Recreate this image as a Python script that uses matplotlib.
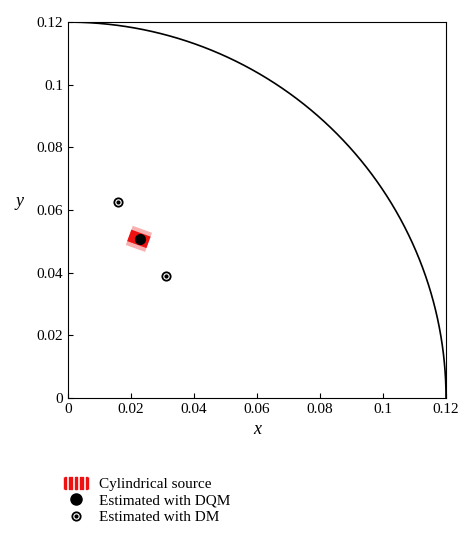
import numpy as np
import matplotlib
matplotlib.use("Agg")
import matplotlib.pyplot as plt
from matplotlib.patches import Rectangle
from matplotlib.lines import Line2D
from matplotlib.legend_handler import HandlerTuple
import matplotlib.transforms as mtransforms

plt.rcParams['font.family'] = ['Liberation Serif', 'DejaVu Serif']

radius = 0.12
source_center = (0.0225, 0.0508)
source_size = 0.0065
source_angle = -20
dqm_x, dqm_y = [0.0227], [0.0507]
dm_x, dm_y = [0.0160, 0.0310], [0.0625, 0.0390]
ticks = [0, 0.02, 0.04, 0.06, 0.08, 0.1, 0.12]
tick_labels = ['0', '0.02', '0.04', '0.06', '0.08', '0.1', '0.12']

fig = plt.figure(figsize=(4.74, 5.39), dpi=100)
ax = fig.add_axes([0.1435, 0.2616, 0.7975, 0.6974])

t = np.linspace(0, np.pi / 2, 400)
ax.plot(radius * np.cos(t), radius * np.sin(t), color='black', lw=1.2)

plt.rcParams['hatch.color'] = '#ee1111'
plt.rcParams['hatch.linewidth'] = 1.6
tr = mtransforms.Affine2D().rotate_deg_around(source_center[0], source_center[1], source_angle) + ax.transData
rect = Rectangle((source_center[0] - source_size / 2, source_center[1] - source_size / 2),
                 source_size, source_size, facecolor='#f8b0b0', edgecolor='none',
                 hatch='|||')
rect.set_transform(tr)
ax.add_patch(rect)
inner = Rectangle((source_center[0] - source_size / 2, source_center[1] - source_size * 0.3),
                  source_size, source_size * 0.6, facecolor='#ee1111', edgecolor='none')
inner.set_transform(tr)
ax.add_patch(inner)

ax.plot(dqm_x, dqm_y, 'o', color='black', ms=7)
ax.plot(dm_x, dm_y, 'o', mfc='white', mec='black', mew=1.3, ms=6)
ax.plot(dm_x, dm_y, 'o', color='black', ms=2)

ax.set_xlim(0, 0.12)
ax.set_ylim(0, 0.12)
ax.set_xticks(ticks)
ax.set_xticklabels(tick_labels)
ax.set_yticks(ticks)
ax.set_yticklabels(tick_labels)
ax.tick_params(direction='in', labelsize=11, top=False, right=False)
ax.set_xlabel('x', style='italic', fontsize=13)
ax.set_ylabel('y', style='italic', fontsize=13, rotation=0, labelpad=12)

handles = [
    Line2D([], [], marker='$\\|\\|\\|\\|\\|$', color='#ee1111', ls='none', ms=18),
    Line2D([], [], marker='o', color='black', ls='none', ms=8),
    (Line2D([], [], marker='o', mfc='white', mec='black', mew=1.3, ls='none', ms=6),
     Line2D([], [], marker='o', color='black', ls='none', ms=2)),
]
labels = ['Cylindrical source', 'Estimated with DQM', 'Estimated with DM']
fig.legend(handles, labels, loc='upper left', bbox_to_anchor=(0.1, 0.14),
           frameon=False, fontsize=11, handletextpad=0.5, labelspacing=0.2,
           handler_map={tuple: HandlerTuple(ndivide=None, pad=-2)})

fig.savefig('out.png', dpi=100)
